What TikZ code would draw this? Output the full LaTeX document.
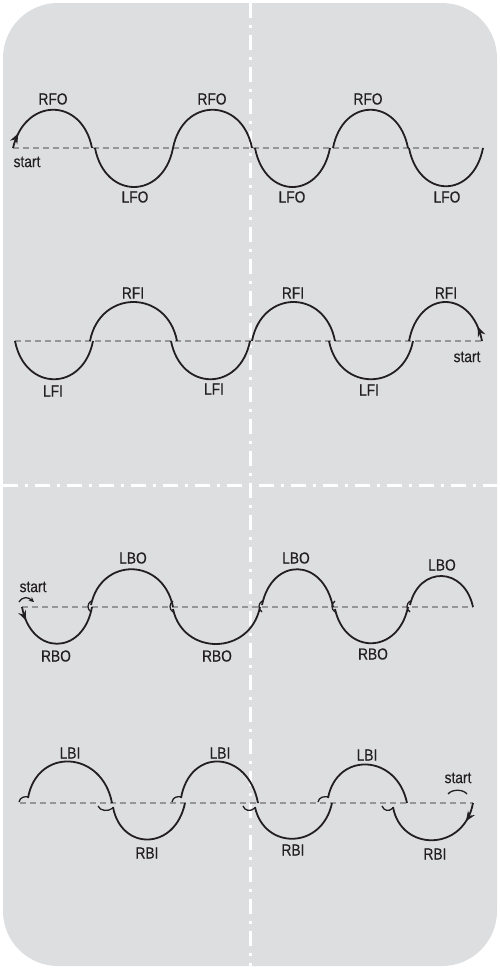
\documentclass[tikz,border=0pt]{standalone}
\usepackage{fontspec}
\setmainfont{Liberation Sans}[FakeStretch=0.86, FakeBold=0.35]
\usepackage{tikz}
\usetikzlibrary{arrows}
\usetikzlibrary{arrows.meta}
\usetikzlibrary{decorations.markings}
\usepackage{color}
\definecolor{panelgray}{RGB}{221, 222, 224}
\definecolor{edgeink}{RGB}{35, 31, 32}
\definecolor{flatgray}{RGB}{150, 150, 152}

\tikzset{
  edgeline/.style={draw=edgeink, line width=1.8pt},
  hookline/.style={draw=edgeink, line width=1.3pt},
  flatline/.style={draw=flatgray, line width=1.5pt, dash pattern=on 6pt off 4pt},
  divider/.style={draw=white, line width=3pt, dash pattern=on 15pt off 7pt on 3pt off 7pt},
  lbl/.style={text=edgeink, inner sep=0pt, font=\fontsize{16}{18}\selectfont},
  startarrow/.style={postaction={decorate},
    decoration={markings, mark=at position #1 with {\arrow{Stealth[length=10pt, width=8pt]}}}}
}

\begin{document}
\begin{tikzpicture}[x=1pt, y=-1pt]
            \useasboundingbox (0,0) rectangle (500,969);
            % Panel & dividers
            \fill[panelgray, rounded corners=55pt]                            (  3,  3) rectangle (497,966);
            \draw[divider]                                                    (250,  3) -- (250,966);
            \draw[divider]                                                    (  3,485) -- (497,485);
            % Forward outside
            \draw[flatline]                                                   ( 13,148) -- (483,148);
            \draw[edgeline, startarrow=0.13] ( 13,148) .. controls ( 25, 97) and ( 82, 97) .. ( 92,148);
            \draw[edgeline]                  ( 95,148) .. controls (105,200) and (163,200) .. (173,148);
            \draw[edgeline]                  (173,148) .. controls (183, 97) and (242, 97) .. (252,148);
            \draw[edgeline]                  (255,148) .. controls (265,200) and (320,200) .. (330,148);
            \draw[edgeline]                  (333,148) .. controls (343, 97) and (398, 97) .. (408,148);
            \draw[edgeline]                  (409,148) .. controls (419,199) and (473,199) .. (483,148);
            \node[lbl] (rfoA)   at ( 53, 99) {RFO};
            \node[lbl] (lfoA)   at (135,197) {LFO};
            \node[lbl] (rfoB)   at (212, 99) {RFO};
            \node[lbl] (lfoB)   at (292,197) {LFO};
            \node[lbl] (rfoC)   at (368, 99) {RFO};
            \node[lbl] (lfoC)   at (447,197) {LFO};
            \node[lbl] (startA) at ( 27,162) {start};
            % Forward inside
            \draw[flatline]                                                   ( 15,341) -- (482,341);
            \draw[edgeline]                  ( 15,341) .. controls ( 25,392) and ( 83,392) .. ( 93,341);
            \draw[edgeline]                  ( 90,341) .. controls (100,289) and (167,289) .. (177,341);
            \draw[edgeline]                  (171,341) .. controls (181,392) and (240,392) .. (250,341);
            \draw[edgeline]                  (252,341) .. controls (262,289) and (325,289) .. (335,341);
            \draw[edgeline]                  (329,341) .. controls (339,392) and (403,392) .. (413,341);
            \draw[edgeline, startarrow=0.13] (482,341) .. controls (472,289) and (419,289) .. (409,341);
            \node[lbl] (lfiA)   at ( 53,391) {LFI};
            \node[lbl] (rfiA)   at (133,293) {RFI};
            \node[lbl] (lfiB)   at (214,389) {LFI};
            \node[lbl] (rfiB)   at (293,293) {RFI};
            \node[lbl] (lfiC)   at (369,390) {LFI};
            \node[lbl] (rfiC)   at (446,293) {RFI};
            \node[lbl] (startB) at (467,357) {start};
            % Backward outside
            \draw[flatline]                                                   ( 22,607) -- (473,607);
            \draw[edgeline, startarrow=0.13] ( 22,607) .. controls ( 31,656) and ( 83,656) .. ( 92,607);
            \draw[edgeline]                  ( 91,605) .. controls (101,557) and (163,557) .. (173,607);
            \draw[edgeline]                  (173,609) .. controls (183,656) and (250,656) .. (260,607);
            \draw[edgeline]                  (262,605) .. controls (272,557) and (323,557) .. (333,607);
            \draw[edgeline]                  (335,609) .. controls (345,655) and (398,655) .. (408,607);
            \draw[edgeline]                  (410,605) .. controls (419,566) and (464,566) .. (473,607);
            \draw[hookline]                  ( 91,601) .. controls ( 87,604) and ( 87,609) .. ( 91,612);
            \draw[hookline]                  (173,601) .. controls (169,604) and (169,609) .. (173,612);
            \draw[hookline]                  (262,601) .. controls (258,604) and (258,609) .. (262,612);
            \draw[hookline]                  (335,601) .. controls (331,604) and (331,609) .. (335,612);
            \draw[hookline]                  (410,601) .. controls (406,604) and (406,609) .. (410,612);
            \draw[hookline, -{Stealth[length=5pt, width=5pt]}]
                                             ( 19,602) .. controls ( 23,596) and ( 28,597) .. ( 34,602);
            \node[lbl] (rboA)   at ( 56,656) {RBO};
            \node[lbl] (lboA)   at (133,558) {LBO};
            \node[lbl] (rboB)   at (217,656) {RBO};
            \node[lbl] (lboB)   at (296,558) {LBO};
            \node[lbl] (rboC)   at (373,654) {RBO};
            \node[lbl] (lboC)   at (442,565) {LBO};
            \node[lbl] (startC) at ( 33,587) {start};
            % Backward inside
            \draw[flatline]                                                   ( 20,803) -- (473,803);
            \draw[edgeline]                  ( 28,798) .. controls ( 37,747) and (102,750) .. (112,803);
            \draw[edgeline]                  (113,807) .. controls (121,851) and (175,851) .. (185,803);
            \draw[edgeline]                  (181,798) .. controls (190,747) and (248,750) .. (258,803);
            \draw[edgeline]                  (255,807) .. controls (264,850) and (322,850) .. (332,803);
            \draw[edgeline]                  (328,798) .. controls (337,751) and (397,754) .. (407,803);
            \draw[edgeline, startarrow=0.17] (473,803) .. controls (464,852) and (401,852) .. (393,807);
            \draw[hookline]                  ( 19,802) .. controls ( 20,797) and ( 25,796) .. ( 29,797);
            \draw[hookline]                  (172,802) .. controls (173,797) and (177,796) .. (182,797);
            \draw[hookline]                  (318,802) .. controls (319,797) and (324,796) .. (329,797);
            \draw[hookline]                  ( 98,806) .. controls (100,811) and (108,812) .. (113,808);
            \draw[hookline]                  (243,806) .. controls (245,811) and (250,812) .. (255,808);
            \draw[hookline]                  (382,806) .. controls (384,811) and (389,812) .. (393,808);
            \draw[hookline]                  (448,794) .. controls (452,789) and (463,789) .. (467,794);
            \node[lbl] (lbiA)   at ( 70,753) {LBI};
            \node[lbl] (rbiA)   at (147,853) {RBI};
            \node[lbl] (lbiB)   at (220,753) {LBI};
            \node[lbl] (rbiB)   at (293,850) {RBI};
            \node[lbl] (lbiC)   at (367,755) {LBI};
            \node[lbl] (rbiC)   at (435,854) {RBI};
            \node[lbl] (startD) at (458,778) {start};
\end{tikzpicture}
\end{document}
